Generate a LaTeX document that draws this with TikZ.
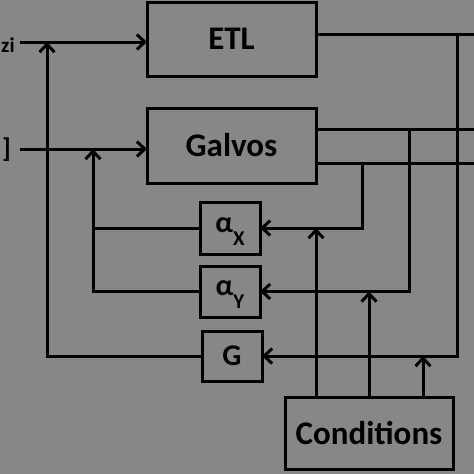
\documentclass[tikz,border=0pt]{standalone}
\usepackage{fontspec}
\setmainfont{Carlito}
\usetikzlibrary{arrows.meta}
\definecolor{bg}{RGB}{135,135,135}
\tikzset{
  blk/.style={draw=black, line width=3pt, inner sep=0pt, outer sep=0pt, font=\bfseries},
  wire/.style={line width=3pt, black},
  arr/.style={wire, -{Straight Barb[length=8pt,width=15pt]}},
  big/.style={font=\fontsize{33}{33}\selectfont\bfseries},
}
\newcommand{\alsub}[1]{\raisebox{-4pt}[0pt][0pt]{{\fontsize{30}{30}\selectfont\bfseries α}\raisebox{-13pt}{\fontsize{21}{21}\selectfont\bfseries #1}}}
\begin{document}
\begin{tikzpicture}[x=1pt,y=-1pt]
\fill[bg] (0,0) rectangle (474,474);
\useasboundingbox (0,0) rectangle (474,474);
% blocks
\node[blk,big,minimum width=169pt,minimum height=74pt] (etl) at (231.5,39) {ETL};
\node[blk,big,minimum width=169pt,minimum height=75pt] (gal) at (231.5,145.5) {Galvos};
\node[blk,minimum width=60pt,minimum height=52pt] (ax) at (230,228) {\alsub{X}};
\node[blk,minimum width=60pt,minimum height=51pt] (ay) at (230,291.5) {\alsub{Y}};
\node[blk,minimum width=60pt,minimum height=50pt,font=\fontsize{30}{30}\selectfont\bfseries] (g) at (232,356) {G};
\node[blk,big,minimum width=168pt,minimum height=72pt] (cond) at (369,433) {Conditions};
% left texts
\node[anchor=base west,inner sep=0pt,font=\fontsize{21}{21}\selectfont\bfseries] (zt) at (1,52) {zi};
\node[anchor=base west,inner sep=0pt,font=\fontsize{27}{27}\selectfont\bfseries] (bt) at (2,157) {]};
% inputs
\coordinate (zin) at (20,42);
\coordinate (gin) at (20,149);
\draw[arr] (zin) -- (etl.west |- zin);
\draw[arr] (gin) -- (gal.west |- gin);
% feedbacks on the left
\coordinate (gfb) at (47,42);
\coordinate (afb) at (93,149);
\draw[arr] (g.west) -| (gfb);
\draw[wire] (ax.west) -- (ax.west -| afb);
\draw[arr] (ay.west) -| (afb);
% outputs on the right
\coordinate (e1) at (316,34);
\coordinate (eR) at (474,34);
\coordinate (g1) at (316,129);
\coordinate (g1R) at (474,129);
\coordinate (g2) at (316,163);
\coordinate (g2R) at (474,163);
\draw[wire] (e1) -- (eR);
\draw[wire] (g1) -- (g1R);
\draw[wire] (g2) -- (g2R);
\coordinate (vE) at (457,34);
\coordinate (vG1) at (409,129);
\coordinate (vG2) at (362,163);
\draw[arr] (vE) |- (g.east);
\draw[arr] (vG1) |- (ay.east);
\draw[arr] (vG2) |- (ax.east);
% conditions
\coordinate (c1) at (316,397);
\coordinate (c2) at (369,397);
\coordinate (c3) at (423,397);
\draw[arr] (c1) -- (c1 |- ax.east);
\draw[arr] (c2) -- (c2 |- ay.east);
\draw[arr] (c3) -- (c3 |- g.east);
\end{tikzpicture}
\end{document}
